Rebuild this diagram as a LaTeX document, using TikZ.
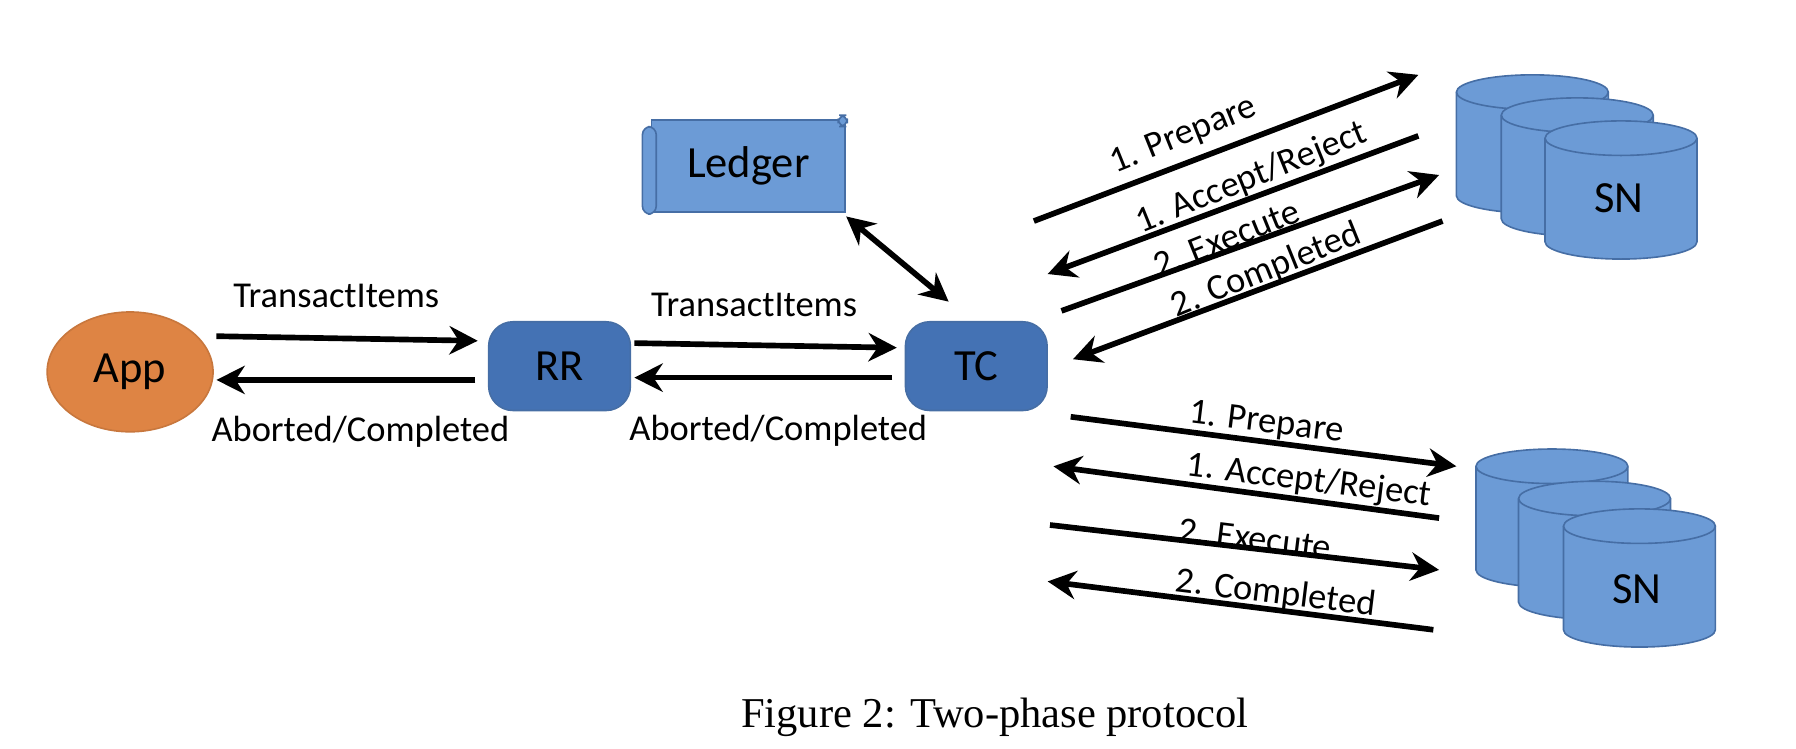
\documentclass[tikz,border=0pt]{standalone}
\usepackage{fontspec}
\setmainfont{Carlito}
\newfontfamily\capfont{Liberation Serif}
\usetikzlibrary{shapes.geometric,arrows.meta}
\definecolor{apporange}{RGB}{222,132,68}
\definecolor{boxblue}{RGB}{68,114,180}
\definecolor{lightblue}{RGB}{108,155,214}
\definecolor{edgeblue}{RGB}{70,110,165}
\tikzset{drum/.pic={
  \path[fill=lightblue,draw=edgeblue] (-66,-45) -- (-66,45) arc[start angle=180,end angle=0,x radius=66,y radius=15]
    -- (66,-45) arc[start angle=0,end angle=-180,x radius=66,y radius=15] -- cycle;
  \draw[edgeblue] (-66,-45) arc[start angle=180,end angle=0,x radius=66,y radius=15];
}}
\begin{document}
\begin{tikzpicture}[x=0.01cm,y=-0.01cm]

%
% Styles
%
\tikzstyle{proc} = [rectangle,rounded corners=6pt,draw=edgeblue,fill=boxblue,minimum width=1.23cm,minimum height=0.77cm,font=\fontsize{11}{12}\selectfont]
\tikzstyle{msg} = [-{Stealth[length=7pt,width=7pt]},line width=1.4pt]
\tikzstyle{lbl} = [font=\fontsize{9}{10}\selectfont,inner sep=0pt]

\useasboundingbox (0,0) rectangle (1560,650);

\node[ellipse,fill=apporange,draw=apporange!90!black,minimum width=1.44cm,minimum height=1.04cm,font=\fontsize{11}{12}\selectfont] (app) at (113,323) {App};
\node[proc] (rr) at (486,318) {RR};
\node[proc] (tc) at (848,318) {TC};

% ledger scroll
\node[rectangle,fill=lightblue,draw=edgeblue,minimum width=1.68cm,minimum height=0.8cm,font=\fontsize{11}{12}\selectfont] (ledger) at (650,144) {Ledger};
\draw[fill=lightblue,draw=edgeblue,rounded corners=2pt] (558,110) rectangle (570,186);
\draw[fill=lightblue,draw=edgeblue,rounded corners=2pt] (728,100) rectangle (736,110);

% storage nodes
\pic at (1331,125) {drum};
\pic at (1370,145) {drum};
\pic at (1408,165) {drum};
\pic at (1348,450) {drum};
\pic at (1385,478) {drum};
\pic at (1424,502) {drum};
\node[font=\fontsize{11}{12}\selectfont] (sna) at (1406,172) {SN};
\node[font=\fontsize{11}{12}\selectfont] (snb) at (1422,512) {SN};

% end points
\coordinate (a1) at (188,292); \coordinate (a2) at (415,296);
\coordinate (a3) at (413,330); \coordinate (a4) at (188,330);
\coordinate (b1) at (551,298); \coordinate (b2) at (779,302);
\coordinate (b3) at (775,328); \coordinate (b4) at (551,328);
\coordinate (l1) at (735,188); \coordinate (l2) at (824,262);
\coordinate (p1) at (898,192); \coordinate (p2) at (1232,65);
\coordinate (p3) at (1232,118); \coordinate (p4) at (910,238);
\coordinate (p5) at (922,270); \coordinate (p6) at (1250,152);
\coordinate (p7) at (1253,192); \coordinate (p8) at (932,312);
\coordinate (q1) at (930,362); \coordinate (q2) at (1265,405);
\coordinate (q3) at (1250,450); \coordinate (q4) at (915,405);
\coordinate (q5) at (912,456); \coordinate (q6) at (1250,495);
\coordinate (q7) at (1245,547); \coordinate (q8) at (910,505);

\draw[msg] (a1) -- (a2);
\draw[msg] (a3) -- (a4);
\draw[msg] (b1) -- (b2);
\draw[msg] (b3) -- (b4);
\draw[msg,{Stealth[length=7pt,width=7pt]}-{Stealth[length=7pt,width=7pt]}] (l1) -- (l2);
\draw[msg] (p1) -- (p2);
\draw[msg] (p3) -- (p4);
\draw[msg] (p5) -- (p6);
\draw[msg] (p7) -- (p8);
\draw[msg] (q1) -- (q2);
\draw[msg] (q3) -- (q4);
\draw[msg] (q5) -- (q6);
\draw[msg] (q7) -- (q8);

\node[lbl] at (292,257) {TransactItems};
\node[lbl] at (313,375) {Aborted/Completed};
\node[lbl] at (655,265) {TransactItems};
\node[lbl] at (676,374) {Aborted/Completed};
\node[lbl,rotate=22] at (1028,118) {1. Prepare};
\node[lbl,rotate=22] at (1087,155) {1. Accept/Reject};
\node[lbl,rotate=22] at (1065,207) {2. Execute};
\node[lbl,rotate=22] at (1100,235) {2. Completed};
\node[lbl,rotate=-7] at (1100,368) {1. Prepare};
\node[lbl,rotate=-7] at (1137,418) {1. Accept/Reject};
\node[lbl,rotate=-7] at (1090,468) {2. Execute};
\node[lbl,rotate=-7] at (1108,516) {2. Completed};

\node[font=\capfont\fontsize{10.5}{12}\selectfont] (caption) at (864,623) {Figure 2: Two-phase protocol};

\end{tikzpicture}
\end{document}
